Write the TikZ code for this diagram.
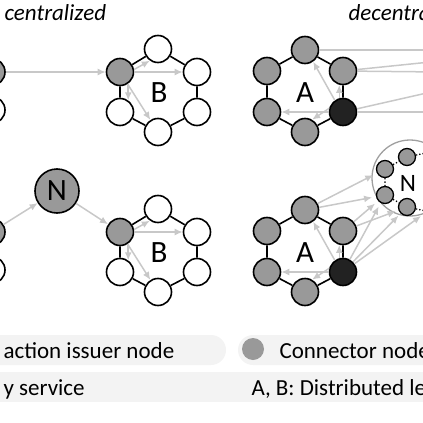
\documentclass[tikz,border=0pt]{standalone}
\usepackage{fontspec}
\setmainfont{Carlito}
\usepackage{tikz}
\usetikzlibrary{arrows.meta,positioning,calc}
\definecolor{nodegray}{HTML}{999999}
\definecolor{issuer}{HTML}{222222}
\definecolor{arrgray}{HTML}{C8C8C8}
\definecolor{legbg}{HTML}{F3F3F3}
\newcommand{\ringfont}{\fontsize{31}{31}\selectfont}

\begin{document}
\begin{tikzpicture}[
  x=1pt, y=-1pt,
  dlt/.style={circle, draw=black, line width=1.6pt, minimum size=27pt, inner sep=0pt},
  wnode/.style={dlt, fill=white},
  gnode/.style={dlt, fill=nodegray},
  inode/.style={dlt, fill=issuer},
  dirnode/.style={circle, draw=black, line width=1.6pt, fill=nodegray, minimum size=44pt, inner sep=0pt, font=\ringfont},
  snode/.style={circle, draw=black, line width=1.3pt, fill=nodegray, minimum size=17pt, inner sep=0pt},
  edge/.style={draw=black, line width=1.6pt},
  ar/.style={draw=arrgray, line width=1.5pt, -{Latex[length=8pt,width=7pt]}},
  link/.style={draw=arrgray, line width=1.5pt},
  ring/.style={font=\ringfont},
  head/.style={anchor=base west, font=\fontsize{23}{23}\selectfont\itshape},
  legtxt/.style={anchor=base west, font=\fontsize{23}{23}\selectfont}
]
\useasboundingbox (0,0) rectangle (423,423);
\clip (0,0) rectangle (423,423);

% headers
\node[head] (hc) at (1,20) {centralized};
\node[head] (hd) at (345,20) {decentralized};

% centralized, without directory
\node[gnode] (L1g) at (-8.5,72)  {};
\node[wnode] (L1w) at (-8.5,110) {};
\node[gnode] (B1a) at (120,72)  {};
\node[wnode] (B1b) at (158,49)  {};
\node[wnode] (B1c) at (197,72)  {};
\node[wnode] (B1d) at (197,112) {};
\node[wnode] (B1e) at (158,132) {};
\node[wnode] (B1f) at (120,112) {};
\node[ring]  (B1)  at (159,93)  {B};
\draw[edge] (B1a) -- (B1b) (B1b) -- (B1c) (B1c) -- (B1d) (B1d) -- (B1e) (B1e) -- (B1f) (B1f) -- (B1a);
\draw[ar] (L1g) -- (B1a);
\draw[ar] (B1a.10) -- (B1b.-125);
\draw[ar] (B1a) -- (B1c);
\draw[ar] (B1a) -- (B1e);
\draw[ar] (B1a.-55) -- (B1f.55);

% centralized, with directory
\node[gnode] (L2g) at (-8.5,232) {};
\node[wnode] (L2w) at (-8.5,270) {};
\node[dirnode] (N) at (57,191) {N};
\node[gnode] (B2a) at (120,232) {};
\node[wnode] (B2b) at (158,209) {};
\node[wnode] (B2c) at (197,232) {};
\node[wnode] (B2d) at (197,272) {};
\node[wnode] (B2e) at (158,292) {};
\node[wnode] (B2f) at (120,272) {};
\node[ring]  (B2)  at (159,253) {B};
\draw[edge] (B2a) -- (B2b) (B2b) -- (B2c) (B2c) -- (B2d) (B2d) -- (B2e) (B2e) -- (B2f) (B2f) -- (B2a);
\draw[ar] (L2g) -- (N);
\draw[ar] (N) -- (B2a);
\draw[ar] (B2a.10) -- (B2b.-125);
\draw[ar] (B2a) -- (B2c);
\draw[ar] (B2a) -- (B2e);
\draw[ar] (B2a.-55) -- (B2f.55);

% decentralized, without directory
\coordinate (R1) at (440,50);
\coordinate (R2) at (440,61);
\coordinate (R3) at (440,72);
\coordinate (R4) at (440,90);
\coordinate (R5) at (440,112);
\node[gnode] (A1a) at (267,71)  {};
\node[gnode] (A1b) at (305,50)  {};
\node[gnode] (A1c) at (343,71)  {};
\node[inode] (A1d) at (343,112) {};
\node[gnode] (A1e) at (305,132) {};
\node[gnode] (A1f) at (267,112) {};
\node[ring]  (A1)  at (305,93)  {A};
\draw[edge] (A1a) -- (A1b) (A1b) -- (A1c) (A1c) -- (A1d) (A1d) -- (A1e) (A1e) -- (A1f) (A1f) -- (A1a);
\draw[link] (A1b) -- (R1);
\draw[link] (A1c) -- (R2);
\draw[link] (A1c) -- (R3);
\draw[link] (A1d) -- (R4);
\draw[link] (A1d) -- (R5);
\draw[ar] (A1d.125) -- (A1b.-55);
\draw[ar] (A1d.105) -- (A1c.-105);
\draw[ar] (A1d) -- (A1f);
\draw[ar] (A1d.165) -- (A1e.60);

% decentralized, with directory
\node[circle, draw=arrgray!80!black, line width=1.3pt, fill=white, minimum size=76pt] (NC) at (410,178) {};
\node[snode] (N1) at (385,169) {};
\node[snode] (N2) at (385,195) {};
\node[snode] (N3) at (407,157) {};
\node[snode] (N4) at (407,207) {};
\coordinate (N5) at (440,150);
\coordinate (N6) at (440,214);
\coordinate (Nx) at (421,216);
\node[font=\fontsize{25}{25}\selectfont] (NN) at (408,183) {N};
\draw[black, line width=1.3pt, dotted] (N1) -- (N3) (N2) -- (N4) (N1) -- (N2) (N3) -- (N5) (N4) -- (N6);
\node[gnode] (A2a) at (267,231) {};
\node[gnode] (A2b) at (305,210) {};
\node[gnode] (A2c) at (343,231) {};
\node[inode] (A2d) at (343,272) {};
\node[gnode] (A2e) at (305,292) {};
\node[gnode] (A2f) at (267,272) {};
\node[ring]  (A2)  at (305,253) {A};
\draw[edge] (A2a) -- (A2b) (A2b) -- (A2c) (A2c) -- (A2d) (A2d) -- (A2e) (A2e) -- (A2f) (A2f) -- (A2a);
\draw[ar, shorten >=4pt] (A2b) -- (N1);
\draw[ar, shorten >=4pt] (A2b) -- (N2);
\draw[ar, shorten >=4pt] (A2c) -- (N2);
\draw[ar, shorten >=3pt] (A2c) -- (N4);
\draw[ar, shorten >=4pt] (A2d) -- (N2);
\draw[ar, shorten >=3pt] (A2d) -- (N4);
\draw[ar] (A2d) -- (Nx);
\draw[ar] (A2d.125) -- (A2b.-55);
\draw[ar] (A2d.105) -- (A2c.-105);
\draw[ar] (A2d) -- (A2f);
\draw[ar] (A2d.165) -- (A2e.60);

% legend
\fill[legbg, rounded corners=15pt] (-40,335) rectangle (226,365);
\fill[legbg, rounded corners=15pt] (238,335) rectangle (470,365);
\fill[legbg] (-40,372) rectangle (470,402);
\node[legtxt] (l1) at (0,358) {action issuer node};
\node[circle, fill=nodegray, minimum size=22pt, inner sep=0pt] (lg) at (253,349) {};
\node[legtxt] (l2) at (276,358) {Connector node};
\node[legtxt] (l3) at (0,395) {y service};
\node[legtxt] (l4) at (248,395) {A, B: Distributed ledger};
\end{tikzpicture}
\end{document}
